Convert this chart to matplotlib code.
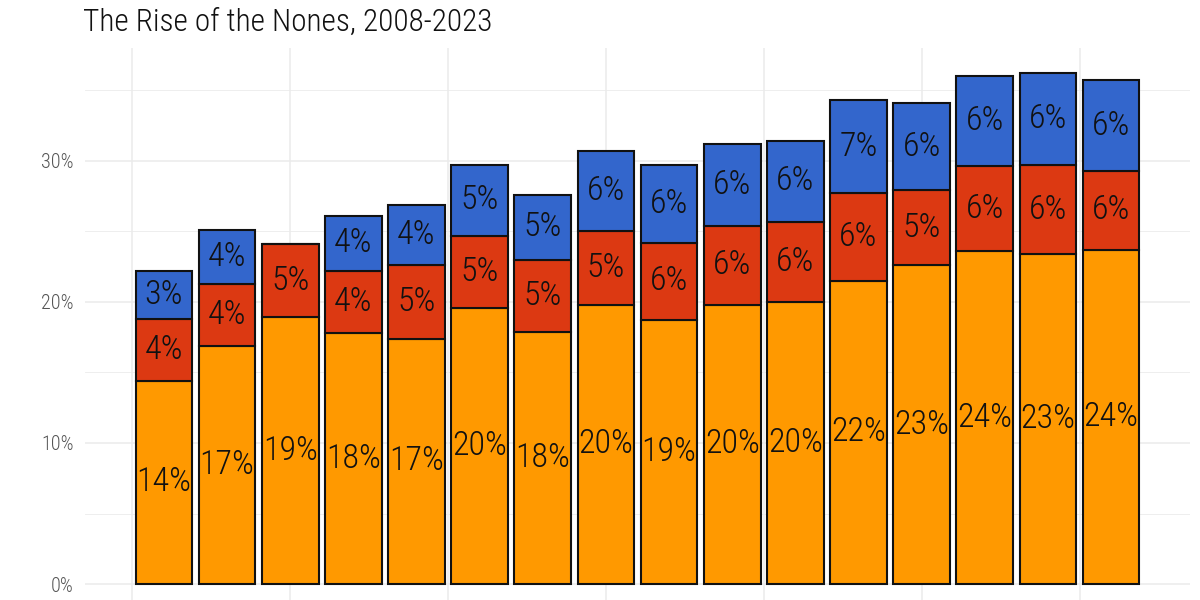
import matplotlib.pyplot as plt
from matplotlib import font_manager
import numpy as np

# data (percent of respondents)
years = np.arange(2008, 2024)
nothing_in_particular = [14.4, 16.9, 18.9, 17.8, 17.4, 19.6, 17.9, 19.8,
                         18.7, 19.8, 20.0, 21.5, 22.6, 23.6, 23.4, 23.7]
atheist = [4.4, 4.4, 5.2, 4.4, 5.2, 5.1, 5.1, 5.2,
           5.5, 5.6, 5.7, 6.2, 5.3, 6.0, 6.3, 5.6]
agnostic = [3.4, 3.8, 0.0, 3.9, 4.3, 5.0, 4.6, 5.7,
            5.5, 5.8, 5.7, 6.6, 6.2, 6.4, 6.5, 6.4]

series = [nothing_in_particular, atheist, agnostic]
colors = ['#ff9900', '#dc3912', '#3366cc']

# look for a narrow, light face (reference uses something like Abel)
def pick_narrow(target_w=300):
	prefs = ['Roboto Condensed', 'Liberation Sans Narrow', 'Open Sans Condensed',
			 'Noto Sans', 'Open Sans', 'Roboto', 'DejaVu Sans']
	fl = font_manager.fontManager.ttflist
	for fam in prefs:
		cands = [f for f in fl if f.name == fam and f.style == 'normal'
				 and (f.stretch in ('condensed', 'semi-condensed', 'extra-condensed')
					  or 'Condensed' in fam or 'Narrow' in fam)]
		if cands:
			def score(f):
				w = f.weight if isinstance(f.weight, int) else 400
				s = {'condensed': 0, 'extra-condensed': 1, 'semi-condensed': 2}.get(f.stretch, 0)
				return (abs(w - target_w), s)
			cands.sort(key=score)
			return font_manager.FontProperties(fname=cands[0].fname)
	return font_manager.FontProperties(family='DejaVu Sans')

fp = pick_narrow(300)

fig = plt.figure(figsize=(12, 6), dpi=100)
# panel: x 85..1190 px, y 48..600 px
ax = fig.add_axes([85 / 1200, 0, (1190 - 85) / 1200, (600 - 48) / 600])

bottom = np.zeros(len(years))
for vals, col in zip(series, colors):
	vals = np.array(vals)
	ax.bar(years, vals, width=0.9, bottom=bottom, color=col,
		   edgecolor='#111111', linewidth=1.5, zorder=3)
	for x, b, v in zip(years, bottom, vals):
		if v > 0:
			ax.text(x, b + v / 2, '%d%%' % round(v), ha='center', va='center',
					fontproperties=fp, fontsize=24.5, color='#111111', zorder=4)
	bottom = bottom + vals

ax.set_xlim(2006.75, 2024.25)
ax.set_ylim(-1.13, 38.0)

ax.set_yticks([0, 10, 20, 30])
ax.set_yticklabels(['0%', '10%', '20%', '30%'], fontproperties=fp)
ax.set_yticks([5, 15, 25, 35], minor=True)
ax.set_xticks([2007.5, 2010, 2012.5, 2015, 2017.5, 2020, 2022.5])
ax.set_xticklabels([])

ax.grid(which='major', color='#ebebeb', linewidth=1.1, zorder=0)
ax.grid(which='minor', axis='y', color='#ebebeb', linewidth=0.6, zorder=0)
ax.tick_params(which='both', length=0)
ax.tick_params(axis='y', labelcolor='#555555', pad=8)
for lab in ax.get_yticklabels():
	lab.set_fontsize(14.5)
for s in ax.spines.values():
	s.set_visible(False)

fig.text(83 / 1200, 1 - 22 / 600, 'The Rise of the Nones, 2008-2023',
		 fontproperties=fp, fontsize=22.5, color='#111111', ha='left', va='center')

fig.savefig('out.png', dpi=100)
